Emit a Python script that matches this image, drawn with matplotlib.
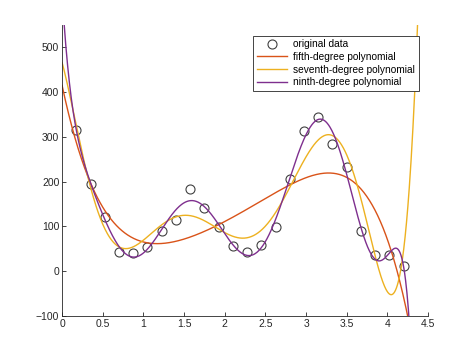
import numpy as np
import matplotlib
matplotlib.use("Agg")
from matplotlib import pyplot as plt

# data points
x = [0.175, 0.35, 0.525, 0.7, 0.875, 1.05, 1.225, 1.4, 1.575, 1.75, 1.925, 2.1,
     2.275, 2.45, 2.625, 2.8, 2.975, 3.15, 3.325, 3.5, 3.675, 3.85, 4.025, 4.2]
y = [315, 195, 122, 43, 40, 55, 90, 115, 184, 141, 98, 56,
     42, 58, 98, 206, 314, 344, 284, 233, 90, 35, 35, 11]
degrees = [5, 7, 9]
names = ['fifth-degree polynomial', 'seventh-degree polynomial', 'ninth-degree polynomial']
colors = ['#D95319', '#EDB120', '#7E2F8E']

plt.rcParams['font.family'] = ['Liberation Sans', 'DejaVu Sans']

fig = plt.figure(figsize=(4.74, 3.55), dpi=100)
ax = fig.add_axes([0.131, 0.110, 0.772, 0.820])

ax.plot(x, y, 'o', mfc='none', mec='#404040', ms=6.5, mew=0.8, label='original data')

xx = np.linspace(0, 4.5, 800)
for d, n, c in zip(degrees, names, colors):
    p = np.polyfit(x, y, d)
    ax.plot(xx, np.polyval(p, xx), color=c, lw=1.0, label=n)

ax.set_xlim(0, 4.5)
ax.set_ylim(-100, 550)
ax.set_xticks(np.arange(0, 4.51, 0.5))
ax.set_xticklabels(['0', '0.5', '1', '1.5', '2', '2.5', '3', '3.5', '4', '4.5'])
ax.set_yticks(np.arange(-100, 501, 100))
ax.spines['top'].set_visible(False)
ax.spines['right'].set_visible(False)
for s in ['left', 'bottom']:
    ax.spines[s].set_color('#262626')
    ax.spines[s].set_linewidth(0.6)
ax.tick_params(direction='in', length=3, width=0.6, colors='#262626', labelsize=7.5, pad=2)

leg = ax.legend(loc='upper right', bbox_to_anchor=(0.975, 0.962), fontsize=7.3,
                fancybox=False, edgecolor='#262626', framealpha=1, borderpad=0.35,
                labelspacing=0.25, handlelength=3.0, handletextpad=0.6, borderaxespad=0)
leg.get_frame().set_linewidth(0.6)

fig.savefig('out.png', dpi=100)
